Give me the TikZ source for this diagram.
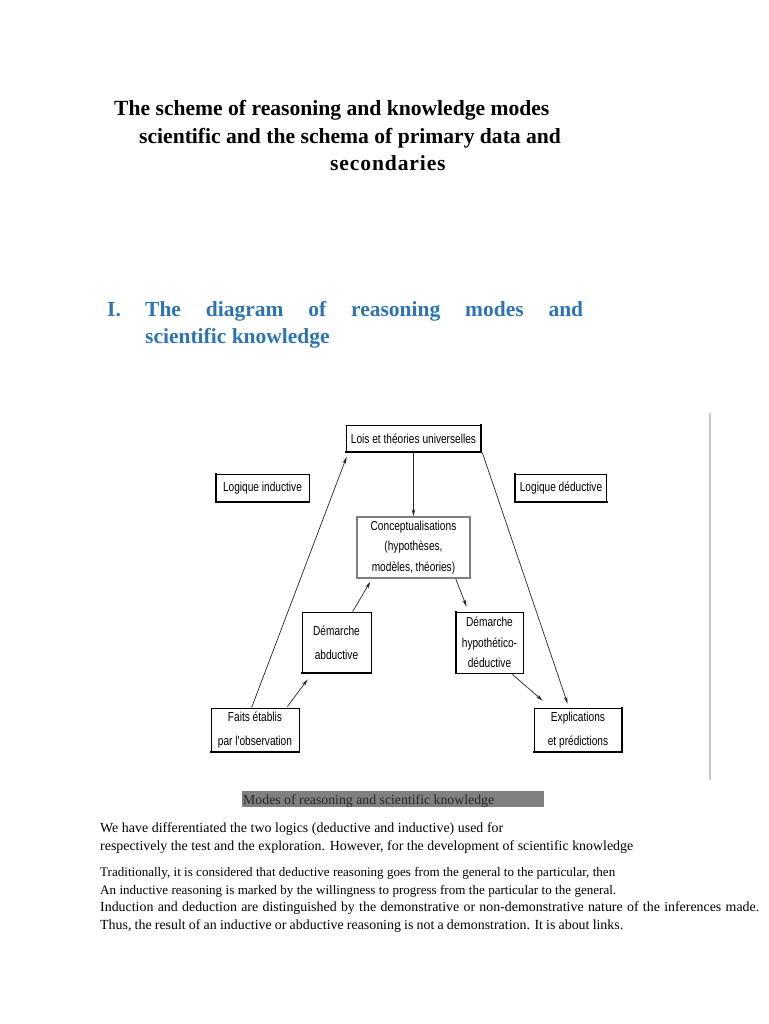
\documentclass[tikz,border=0pt]{standalone}
\usepackage{fontspec}
\setmainfont{Liberation Serif}
\newfontfamily\narrowsf[FakeStretch=0.78]{Liberation Sans}
\usetikzlibrary{arrows.meta,calc}
\definecolor{headblue}{RGB}{46,116,181}
\definecolor{capgray}{RGB}{128,128,128}
\definecolor{rulegray}{RGB}{200,200,200}
\begin{document}
\begin{tikzpicture}[x=1pt,y=-1pt,
  box/.style={draw=black,line width=0.8pt,inner sep=0pt,align=center,
    font=\narrowsf\fontsize{13}{20.5}\selectfont},
  widebox/.style={box,font=\narrowsf\fontsize{13}{24}\selectfont},
  heavy/.style={line width=2pt,line cap=rect},
  arr/.style={draw=black!85,line width=0.7pt,-{Stealth[length=7pt,width=3.5pt]}},
  title/.style={anchor=base west,inner sep=0pt,font=\bfseries\fontsize{21.6}{25}\selectfont},
  head/.style={anchor=base west,inner sep=0pt,text=headblue,font=\bfseries\fontsize{21.5}{25}\selectfont},
  body/.style={anchor=base west,inner sep=0pt,font=\fontsize{13.9}{16}\selectfont},
  bodysmall/.style={anchor=base west,inner sep=0pt,font=\fontsize{13.05}{15}\selectfont}]
\useasboundingbox (0,0) rectangle (768,1024);
\fill[white] (0,0) rectangle (768,1024);

% Title
\node[title] (t1) at (114,116) {The scheme of reasoning and knowledge modes};
\node[title] (t2) at (139,144) {scientific and the schema of primary data and};
\node[title] (t3) at (330,171) {\addfontfeature{LetterSpace=4}secondaries};

% Heading
\node[head] (h0) at (107,316) {I.};
\node[head] (h1) at (145,316) {\makebox[438pt][s]{The diagram of reasoning modes and}};
\node[head] (h2) at (145,343) {scientific knowledge};

% right rule
\draw[rulegray,line width=1.5pt] (710,413) -- (710,780);

% Diagram boxes
\node[box,minimum width=135pt,minimum height=26pt] (lois) at (413.5,438.5) {Lois et théories universelles};
\node[box,minimum width=93pt,minimum height=28pt] (li) at (262.5,488) {Logique inductive};
\node[box,minimum width=91pt,minimum height=28pt] (ld) at (561,488) {Logique déductive};
\node[box,draw=black!50,line width=1.4pt,minimum width=113pt,minimum height=61pt] (conc) at (413.5,547.5) {Conceptualisations\\(hypothèses,\\modèles, théories)};
\node[widebox,minimum width=69pt,minimum height=61pt] (abd) at (336.5,642.5) {Démarche\\abductive};
\node[box,minimum width=67pt,minimum height=61pt] (hyp) at (489.5,642.5) {Démarche\\hypothético-\\déductive};
\node[widebox,minimum width=88pt,minimum height=44pt] (faits) at (255,730) {Faits établis\\par l'observation};
\node[widebox,minimum width=88pt,minimum height=44pt] (expl) at (578,730) {Explications\\et prédictions};

% heavier edges
\draw[heavy] (lois.south west) -- (lois.south east) -- (lois.north east);
\draw[heavy] (li.north west) -- (li.south west) -- (li.south east);
\draw[heavy] (ld.north west) -- (ld.south west) -- (ld.south east);
\draw[heavy] (abd.south west) -- (abd.south east);
\draw[heavy] (hyp.north west) -- (hyp.south west);
\draw[heavy] (faits.south west) -- (faits.south east);
\draw[heavy] (expl.south west) -- (expl.south east) -- (expl.north east);

% connectors
\draw[arr] (lois.south) -- (conc.north);
\draw[arr] ($(faits.north west)+(41,0)$) -- ($(lois.south west)+(1,5)$);
\draw[arr] ($(faits.north east)+(-12,-1)$) -- ($(abd.south west)+(6,6)$);
\draw[arr] ($(abd.north west)+(51,0)$) -- ($(conc.south west)+(14,3)$);
\draw[arr] ($(conc.south east)+(-15,0)$) -- ($(hyp.north west)+(11,-5)$);
\draw[arr] ($(hyp.south east)+(-11,1)$) -- ($(expl.north west)+(9,-7)$);
\draw[arr] ($(lois.south east)+(1,1)$) -- ($(expl.north west)+(34,-4)$);

% caption
\node[fill=capgray,minimum width=302pt,minimum height=16pt,inner sep=0pt] (cap) at (393,799) {};
\node[anchor=base west,inner sep=0pt,text=black!85,font=\fontsize{13.8}{16}\selectfont] (captext) at (243,804) {Modes of reasoning and scientific knowledge};

% body text
\node[body] (b1) at (100,832) {\makebox[403pt][s]{We have differentiated the two logics (deductive and inductive) used for}};
\node[body] (b2) at (100,850) {\makebox[533pt][s]{respectively the test and the exploration. However, for the development of scientific knowledge}};
\node[bodysmall] (b3) at (100,876.5) {\makebox[515pt][s]{Traditionally, it is considered that deductive reasoning goes from the general to the particular, then}};
\node[bodysmall] (b4) at (100,894) {\makebox[516pt][s]{An inductive reasoning is marked by the willingness to progress from the particular to the general.}};
\node[body] (b5) at (100,911.5) {\makebox[659pt][s]{Induction and deduction are distinguished by the demonstrative or non-demonstrative nature of the inferences made.}};
\node[body] (b6) at (100,929.5) {\makebox[523pt][s]{Thus, the result of an inductive or abductive reasoning is not a demonstration. It is about links.}};
\end{tikzpicture}
\end{document}
